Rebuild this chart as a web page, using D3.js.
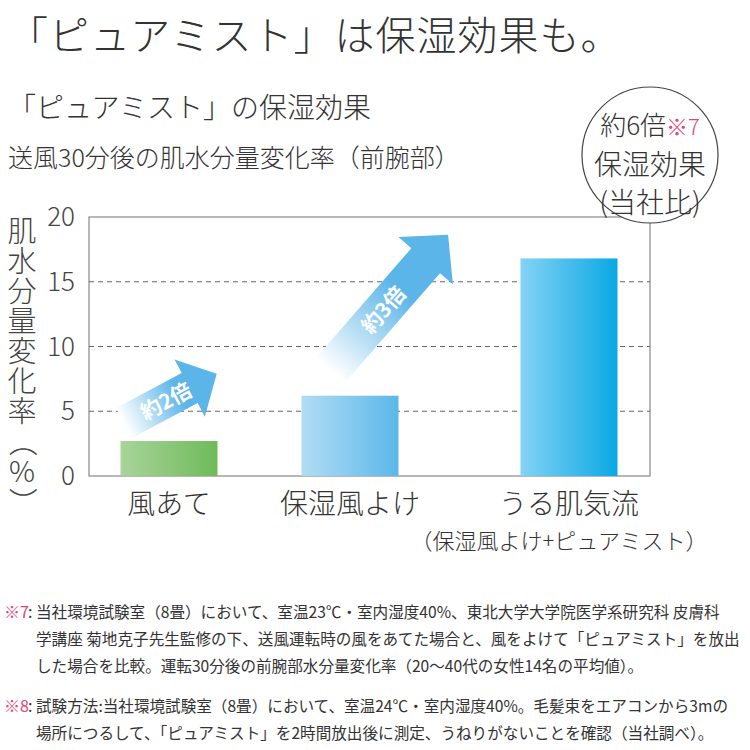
<!DOCTYPE html>
<html><head><meta charset="utf-8">
<script src="https://cdn.jsdelivr.net/npm/d3@7"></script>
<style>body{margin:0;background:#fff}text{font-family:"Noto Sans CJK JP",sans-serif}</style>
</head><body><div id="chart"></div>
<script>
var categories = ["風あて", "保湿風よけ", "うる肌気流"];
var values = [2.7, 6.2, 16.8];
var yTicks = [0, 5, 10, 15, 20];
var arrowLabels = ["約2倍", "約3倍"];
var notes7 = ["当社環境試験室（8畳）において、室温23℃・室内湿度40%、東北大学大学院医学系研究科 皮膚科",
  "学講座 菊地克子先生監修の下、送風運転時の風をあてた場合と、風をよけて「ピュアミスト」を放出",
  "した場合を比較。運転30分後の前腕部水分量変化率（20～40代の女性14名の平均値）。"];
var notes8 = ["試験方法:当社環境試験室（8畳）において、室温24℃・室内湿度40%。毛髪束をエアコンから3mの",
  "場所につるして、「ピュアミスト」を2時間放出後に測定、うねりがないことを確認（当社調べ）。"];

var svg = d3.select("#chart").append("svg").attr("width", 750).attr("height", 750);
var defs = svg.append("defs");
function grad(id, c1, c2, x2, y2) {
  var g = defs.append("linearGradient").attr("id", id).attr("x1", 0).attr("y1", 0).attr("x2", x2).attr("y2", y2);
  g.append("stop").attr("offset", 0).attr("stop-color", c1);
  g.append("stop").attr("offset", 1).attr("stop-color", c2);
}
grad("g0", "#a8d49a", "#6fba5a", 1, 0);
grad("g1", "#b2dcf4", "#5ab8ea", 1, 0);
grad("g2", "#84d2f4", "#0aa8e4", 1, 0);
grad("ga", "#ffffff", "#5bb5e8", 0.6, 0);

// titles
svg.append("text").attr("x", 8).attr("y", 50).attr("font-size", 40).attr("font-weight", 300).attr("fill", "#333").attr("letter-spacing", 1).text("「ピュアミスト」は保湿効果も。");
svg.append("text").attr("x", 8).attr("y", 118).attr("font-size", 28).attr("font-weight", 300).attr("fill", "#333").text("「ピュアミスト」の保湿効果");
svg.append("text").attr("x", 8).attr("y", 167).attr("font-size", 25).attr("font-weight", 300).attr("fill", "#333").text("送風30分後の肌水分量変化率（前腕部）");

var x0 = 89, x1 = 650, yTop = 217, yBot = 476;
// bar centres are not evenly spaced in the original
var x = d3.scaleOrdinal().domain(categories).range([169, 350, 569]);
var barW = 97;
var y = d3.scaleLinear().domain([0, 20]).range([yBot, yTop]);

var chart = svg.append("g");
chart.append("rect").attr("x", x0).attr("y", yTop).attr("width", x1 - x0).attr("height", yBot - yTop)
  .attr("fill", "none").attr("stroke", "#888").attr("stroke-width", 1.2);
chart.selectAll(".grid").data(yTicks.filter(function(d){ return d > 0 && d < 20; })).enter().append("line")
  .attr("x1", x0).attr("x2", x1).attr("y1", function(d){ return y(d); }).attr("y2", function(d){ return y(d); })
  .attr("stroke", "#666").attr("stroke-dasharray", "5,4");
chart.selectAll(".tick").data(yTicks).enter().append("text")
  .attr("x", 75).attr("y", function(d){ return y(d) + 9; }).attr("text-anchor", "end")
  .attr("font-size", 26).attr("fill", "#444").attr("font-family", "Roboto").attr("font-weight", 300).text(function(d){ return d; });

chart.selectAll(".bar").data(values).enter().append("rect")
  .attr("x", function(d, i){ return x(categories[i]) - barW / 2; }).attr("width", barW)
  .attr("y", function(d){ return y(d); }).attr("height", function(d){ return yBot - y(d); })
  .attr("fill", function(d, i){ return "url(#g" + i + ")"; });

chart.selectAll(".cat").data(categories).enter().append("text")
  .attr("x", function(d){ return x(d); }).attr("y", 514).attr("text-anchor", "middle")
  .attr("font-size", 28).attr("font-weight", 300).attr("fill", "#333").text(function(d){ return d; });
svg.append("text").attr("x", x(categories[2]) - 10).attr("y", 549).attr("text-anchor", "middle")
  .attr("font-size", 22).attr("font-weight", 300).attr("fill", "#333").text("（保湿風よけ+ピュアミスト）");

// y label, one glyph per line
var ylab = ["肌", "水", "分", "量", "変", "化", "率", "（", "%", "）"];
svg.selectAll(".yl").data(ylab).enter().append("text")
  .attr("x", 22).attr("y", function(d, i){ return 242 + i * 30; }).attr("text-anchor", "middle")
  .attr("font-size", 29).attr("font-weight", 300).attr("fill", "#444")
  .attr("transform", function(d, i){ return i === 7 || i === 9 ? "rotate(90,22," + (232 + i * 30) + ")" : null; })
  .text(function(d){ return d; });

// arrows between bars
function arrow(i, len, w, ang, lbl) {
  var bx = x(categories[i]) + (i === 0 ? -45 : -20);
  var by = y(values[i]) - (i === 0 ? 18 : 25);
  var g = svg.append("g").attr("transform", "translate(" + bx + "," + by + ") rotate(" + ang + ")");
  var hw = w * 0.9, hl = w * 0.9;
  g.append("path").attr("d", "M0," + (-w/2) + "L" + (len - hl) + "," + (-w/2) + "L" + (len - hl) + "," + (-w/2 - hw/2) +
    "L" + len + ",0L" + (len - hl) + "," + (w/2 + hw/2) + "L" + (len - hl) + "," + (w/2) + "L0," + (w/2) + "Z")
    .attr("fill", "url(#ga)");
  g.append("text").attr("x", len * 0.45).attr("y", 8).attr("text-anchor", "middle").attr("font-size", 21)
    .attr("font-weight", "bold").attr("fill", "#fff").text(lbl);
}
arrow(0, 105, 34, -28, arrowLabels[0]);
arrow(1, 180, 38, -49, arrowLabels[1]);

// badge
var bg = svg.append("g").attr("transform", "translate(650,155)");
bg.append("circle").attr("r", 68).attr("fill", "#fff").attr("stroke", "#444").attr("stroke-width", 1.2);
var t1 = bg.append("text").attr("y", -20).attr("text-anchor", "middle").attr("font-size", 26).attr("font-weight", 300).attr("fill", "#333");
t1.append("tspan").text("約6倍");
t1.append("tspan").attr("fill", "#e0447a").attr("font-size", 22).text("※7");
bg.append("text").attr("y", 20).attr("text-anchor", "middle").attr("font-size", 28).attr("font-weight", 300).attr("fill", "#333").text("保湿効果");
bg.append("text").attr("y", 58).attr("text-anchor", "middle").attr("font-size", 28).attr("font-weight", 300).attr("fill", "#333").text("(当社比)");

// footnotes
function notes(lines, mark, y0) {
  svg.append("text").attr("x", 4).attr("y", y0).attr("font-size", 16).attr("fill", "#e0447a").text(mark);
  svg.append("text").attr("x", 28).attr("y", y0).attr("font-size", 16).attr("fill", "#333").text(":");
  lines.forEach(function(l, i){
    svg.append("text").attr("x", 36).attr("y", y0 + i * 27).attr("font-size", 15.6).attr("fill", "#333").text(l);
  });
}
notes(notes7, "※7", 618);
notes(notes8, "※8", 712);
</script></body></html>
